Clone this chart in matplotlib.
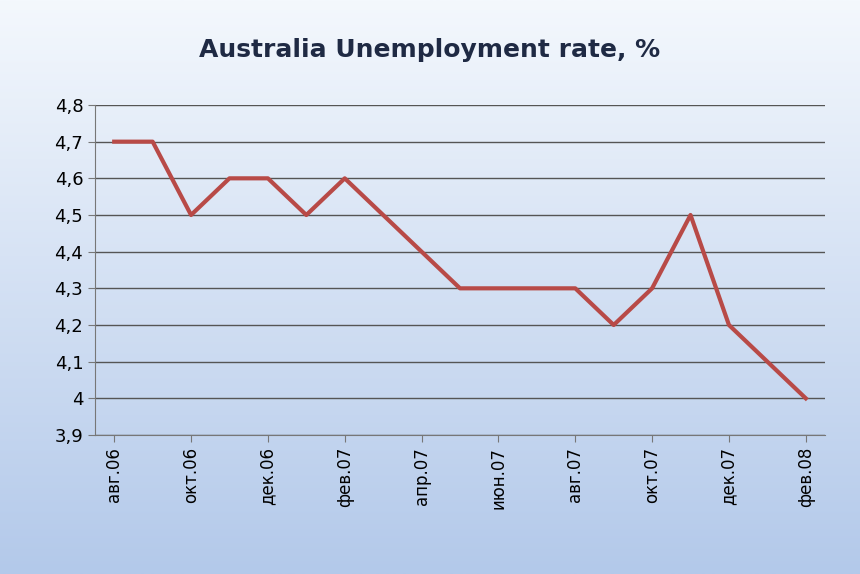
import matplotlib
matplotlib.use("Agg")
import matplotlib.pyplot as plt
import numpy as np

months = ["авг.06","сен.06","окт.06","ноя.06","дек.06","янв.07","фев.07","мар.07","апр.07","май.07",
          "июн.07","июл.07","авг.07","сен.07","окт.07","ноя.07","дек.07","янв.08","фев.08"]
values = [4.7,4.7,4.5,4.6,4.6,4.5,4.6,4.5,4.4,4.3,4.3,4.3,4.3,4.2,4.3,4.5,4.2,4.1,4.0]
tick_labels = ["авг.06","окт.06","дек.06","фев.07","апр.07","июн.07","авг.07","окт.07","дек.07","фев.08"]
yticks = [3.9,4.0,4.1,4.2,4.3,4.4,4.5,4.6,4.7,4.8]

fig = plt.figure(figsize=(8.6,5.74), dpi=100)
bg = fig.add_axes([0,0,1,1], zorder=0)
grad = np.linspace(0,1,256).reshape(-1,1)
from matplotlib.colors import LinearSegmentedColormap
cmap = LinearSegmentedColormap.from_list("g", ["#f4f8fd", "#b3c9ea"])
bg.imshow(grad, aspect="auto", cmap=cmap, extent=[0,1,0,1], origin="upper")
bg.axis("off")

ax = fig.add_axes([95/860, 1-435/574, 730/860, 330/574], zorder=1)
ax.patch.set_alpha(0)
x = np.arange(len(values))
ax.plot(x, values, color="#b84a47", lw=3)
ax.set_xlim(-0.5, len(values)-0.5)
ax.set_ylim(3.9, 4.8)
ax.set_yticks(yticks)
ax.set_yticklabels([f"{v:g}".replace(".", ",") for v in yticks], fontsize=13)
ax.set_xticks([months.index(t) for t in tick_labels])
ax.set_xticklabels(tick_labels, rotation=90, fontsize=12)
ax.grid(axis="y", color="#555555", lw=1)
ax.set_axisbelow(True)
for s in ["top","right"]:
    ax.spines[s].set_visible(False)
ax.spines["left"].set_color("#777777")
ax.spines["bottom"].set_color("#777777")
ax.tick_params(axis="x", length=5, color="#777777")
ax.tick_params(axis="y", length=5, color="#777777")
fig.text(0.5, 1-50/574, "Australia Unemployment rate, %", ha="center", va="center",
         fontsize=18, fontweight="bold", color="#1f2a44")
fig.savefig("out.png", dpi=100)
